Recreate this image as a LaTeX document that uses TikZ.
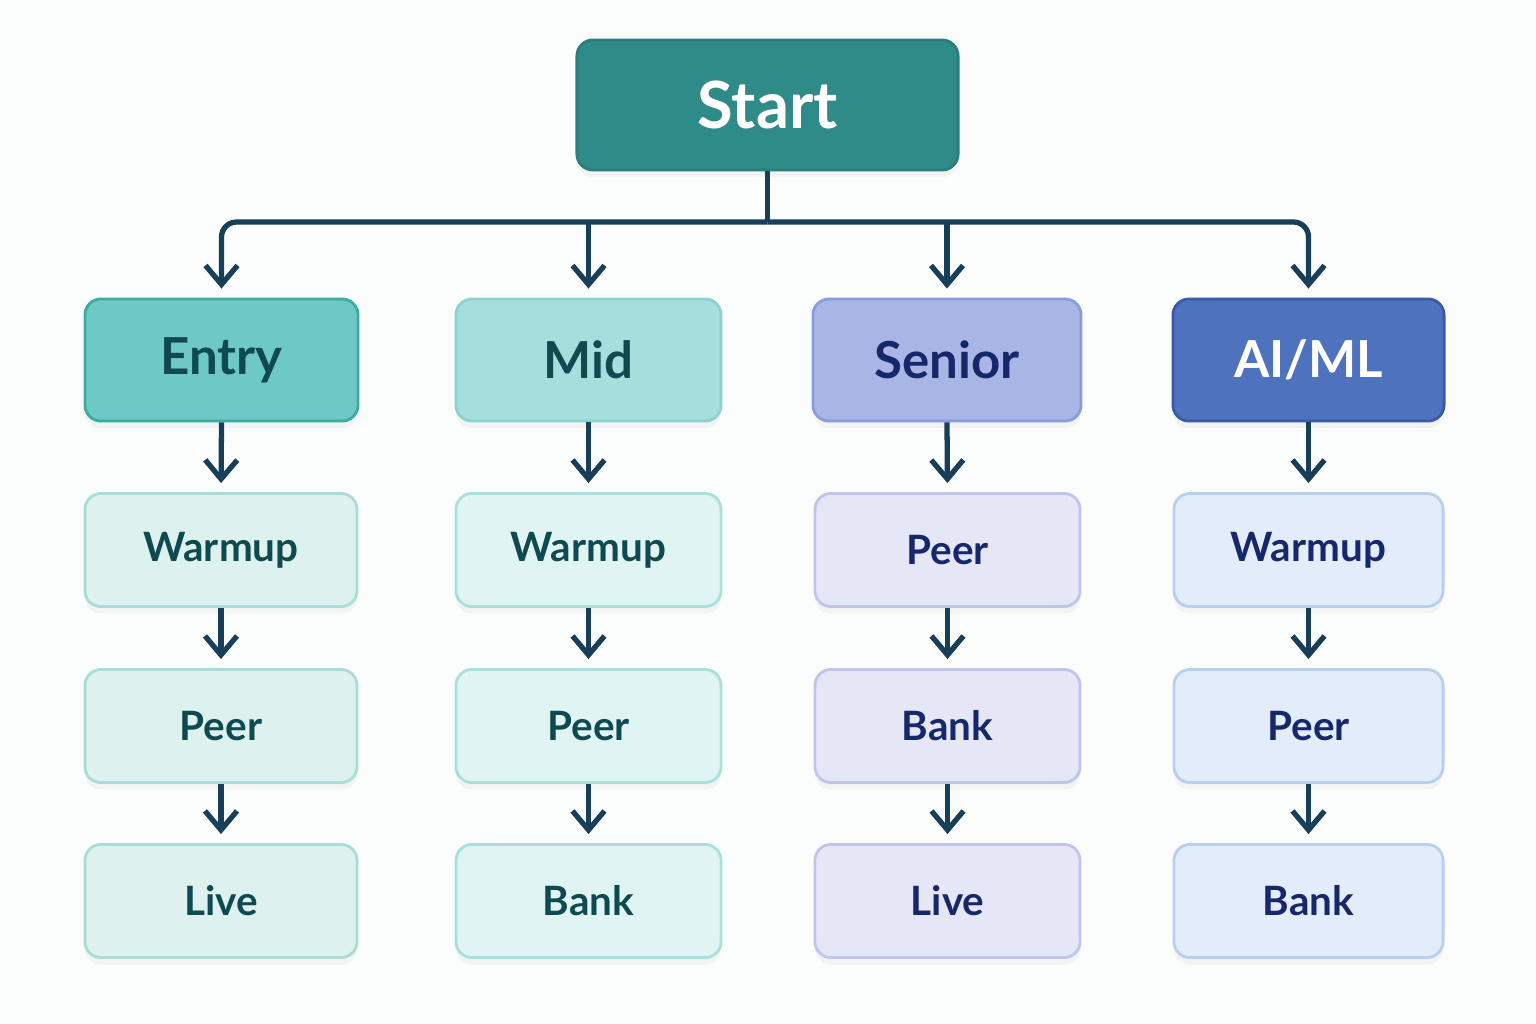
\documentclass[tikz,border=0pt]{standalone}
\usepackage{fontspec}
\setmainfont{Lato}
\usetikzlibrary{arrows.meta,shadows}
\definecolor{bg}{HTML}{FBFCFC}
\definecolor{lineC}{HTML}{173F5A}
\definecolor{startF}{HTML}{2E8B87}
\definecolor{startD}{HTML}{2A7F7B}
\definecolor{entF}{HTML}{6EC9C4}
\definecolor{entD}{HTML}{3AABA5}
\definecolor{midF}{HTML}{A6DEDD}
\definecolor{midD}{HTML}{8ED2D0}
\definecolor{senF}{HTML}{A7B6E4}
\definecolor{senD}{HTML}{8A9DDB}
\definecolor{aiF}{HTML}{4F72BE}
\definecolor{aiD}{HTML}{3A5BA8}
\definecolor{entLF}{HTML}{DDF1EE}
\definecolor{entLD}{HTML}{A9DDD6}
\definecolor{midLF}{HTML}{E0F4F4}
\definecolor{midLD}{HTML}{A9E0DE}
\definecolor{senLF}{HTML}{E5E7F7}
\definecolor{senLD}{HTML}{BFC5EC}
\definecolor{aiLF}{HTML}{E3ECFA}
\definecolor{aiLD}{HTML}{B8CFF0}
\definecolor{tealT}{HTML}{0E4A50}
\definecolor{navyT}{HTML}{16276B}
\tikzset{
  box/.style={rounded corners=0.16cm, line width=0.8pt, inner sep=0pt, align=center,
    font=\bfseries, drop shadow={opacity=0.07, shadow xshift=0pt, shadow yshift=-2pt}},
  topbox/.style={box, minimum width=3.81cm, minimum height=1.30cm, fill=startF, draw=startD,
    text=white, font=\bfseries\fontsize{18.5}{22}\selectfont},
  lvlone/.style={box, minimum height=1.22cm, font=\bfseries\fontsize{14.5}{18}\selectfont},
  lvltwo/.style={box, minimum height=1.13cm, font=\bfseries\fontsize{11.5}{14}\selectfont},
  entA/.style={lvlone, minimum width=2.73cm, fill=entF, draw=entD, text=tealT},
  midA/.style={lvlone, minimum width=2.65cm, fill=midF, draw=midD, text=tealT},
  senA/.style={lvlone, minimum width=2.68cm, fill=senF, draw=senD, text=navyT},
  aiA/.style={lvlone, minimum width=2.71cm, fill=aiF, draw=aiD, text=white},
  entB/.style={lvltwo, minimum width=2.72cm, fill=entLF, draw=entLD, text=tealT},
  midB/.style={lvltwo, minimum width=2.65cm, fill=midLF, draw=midLD, text=tealT},
  senB/.style={lvltwo, minimum width=2.65cm, fill=senLF, draw=senLD, text=navyT},
  aiB/.style={lvltwo, minimum width=2.69cm, fill=aiLF, draw=aiLD, text=navyT},
  arr/.style={draw=lineC, line width=1.5pt, -{Straight Barb[length=1.9mm,width=3.2mm,line width=1.5pt]},
    shorten >=0.09cm},
  conn/.style={draw=lineC, line width=1.5pt}
}
\begin{document}
\begin{tikzpicture}[x=0.01cm,y=-0.01cm]
\fill[bg] (0,0) rectangle (1536,1024);
\useasboundingbox (0,0) rectangle (1536,1024);

\node[topbox] (start) at (767.5,105) {Start};

\node[entA] (e1) at (221.5,360) {Entry};
\node[midA] (m1) at (588.5,360) {Mid};
\node[senA] (s1) at (947,360) {Senior};
\node[aiA]  (a1) at (1308.5,360) {AI/ML};

\node[entB] (e2) at (221,550) {Warmup};
\node[entB] (e3) at (221,726) {Peer};
\node[entB] (e4) at (221,901) {Live};

\node[midB] (m2) at (588.5,550) {Warmup};
\node[midB] (m3) at (588.5,726) {Peer};
\node[midB] (m4) at (588.5,901) {Bank};

\node[senB] (s2) at (947.5,550) {Peer};
\node[senB] (s3) at (947.5,726) {Bank};
\node[senB] (s4) at (947.5,901) {Live};

\node[aiB] (a2) at (1308.5,550) {Warmup};
\node[aiB] (a3) at (1308.5,726) {Peer};
\node[aiB] (a4) at (1308.5,901) {Bank};

\coordinate (j) at (767.5,222);
\draw[conn] (start.south) -- (j);
\draw[arr, rounded corners=0.15cm] (j) -| (e1.north);
\draw[arr, rounded corners=0.15cm] (j) -| (a1.north);
\draw[arr] (m1.north |- j) -- (m1.north);
\draw[arr] (s1.north |- j) -- (s1.north);

\foreach \c in {e,m,s,a}{
  \draw[arr] (\c1.south) -- (\c2.north);
  \draw[arr] (\c2.south) -- (\c3.north);
  \draw[arr] (\c3.south) -- (\c4.north);
}
\end{tikzpicture}
\end{document}
